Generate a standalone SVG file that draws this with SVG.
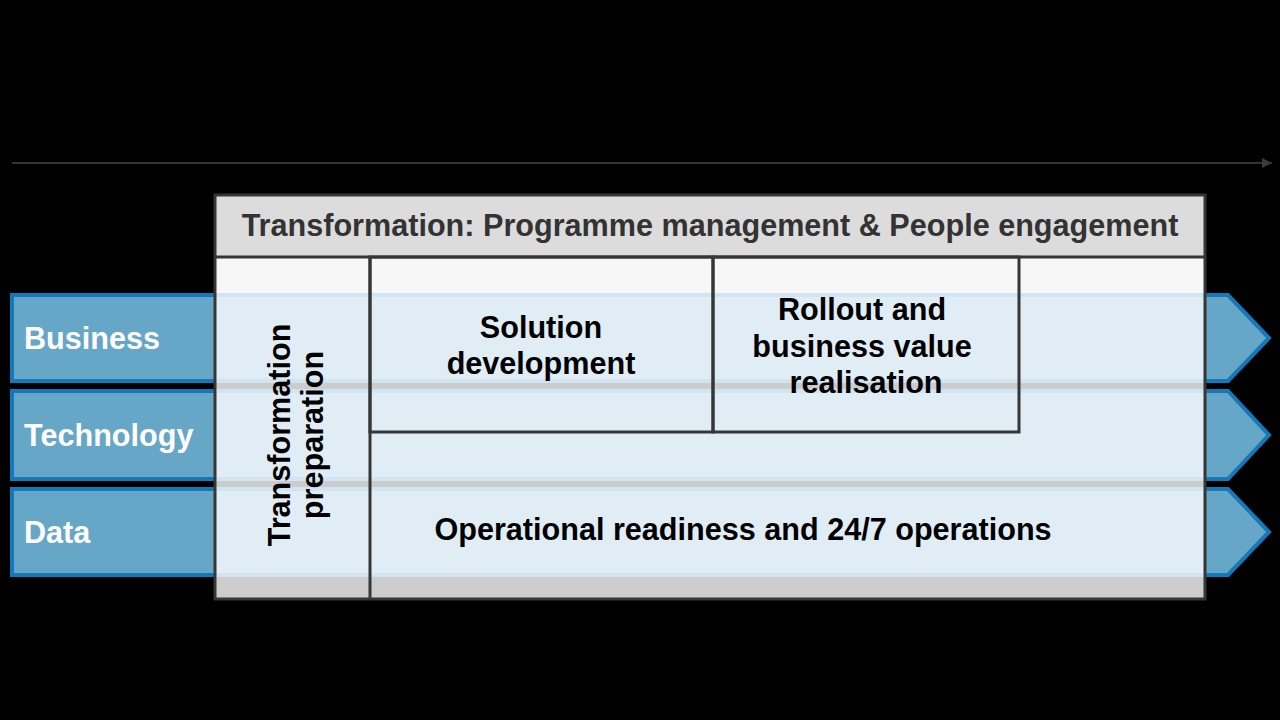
<svg xmlns="http://www.w3.org/2000/svg" width="1280" height="720" viewBox="0 0 1280 720">
  <defs>
    <marker id="arr" viewBox="0 0 10 10" refX="10" refY="5" markerWidth="10" markerHeight="10" markerUnits="userSpaceOnUse" orient="auto">
      <path d="M0,0 L10,5 L0,10 Z" fill="#3c3c3c"/>
    </marker>
    <style>
      .band { fill: #66a6c7; stroke: #1479b8; stroke-width: 4; }
      .lbl { font-family: "Liberation Sans", Arial, sans-serif; font-weight: bold; font-size: 30.6px; }
      .wht { fill: #ffffff; }
      .dk { fill: #000000; }
      .hd { fill: #333333; }
      .ln { stroke: #363636; stroke-width: 3; fill: none; }
    </style>
  </defs>
  <rect x="0" y="0" width="1280" height="720" fill="#000000"/>

  <g id="connectors">
    <line x1="12" y1="163" x2="1272" y2="163" stroke="#333333" stroke-width="2" marker-end="url(#arr)"/>
  </g>

  <g id="band-business">
    <path class="band" d="M12,295 H1228 L1269,338 L1228,381 H12 Z"/>
    <text class="lbl wht" x="24" y="349">Business</text>
  </g>
  <g id="band-technology">
    <path class="band" d="M12,391 H1228 L1269,435 L1228,479 H12 Z"/>
    <text class="lbl wht" x="24" y="446">Technology</text>
  </g>
  <g id="band-data">
    <path class="band" d="M12,489 H1228 L1269,532 L1228,575 H12 Z"/>
    <text class="lbl wht" x="24" y="543">Data</text>
  </g>

  <g id="body">
    <rect x="215" y="257" width="990" height="36" fill="#f7f7f7"/>
    <rect x="215" y="293" width="990" height="306" fill="#ffffff" fill-opacity="0.8"/>
  </g>

  <g id="header">
    <rect x="215" y="195" width="990" height="62" fill="#dcdcdc"/>
    <text class="lbl hd" x="710" y="236" text-anchor="middle">Transformation: Programme management &amp; People engagement</text>
  </g>

  <g id="transformation-preparation">
    <line class="ln" x1="370" y1="257" x2="370" y2="599"/>
    <text class="lbl dk" transform="translate(290,435) rotate(-90)" text-anchor="middle">Transformation</text>
    <text class="lbl dk" transform="translate(323,435) rotate(-90)" text-anchor="middle">preparation</text>
  </g>

  <g id="solution-development">
    <rect class="ln" x="370" y="257" width="343" height="175"/>
    <text class="lbl dk" x="541" y="338" text-anchor="middle">Solution</text>
    <text class="lbl dk" x="541" y="374" text-anchor="middle">development</text>
  </g>

  <g id="rollout">
    <rect class="ln" x="713" y="257" width="306" height="175"/>
    <text class="lbl dk" x="862" y="320" text-anchor="middle">Rollout and</text>
    <text class="lbl dk" x="862" y="357" text-anchor="middle">business value</text>
    <text class="lbl dk" x="866" y="393" text-anchor="middle">realisation</text>
  </g>

  <g id="operations">
    <text class="lbl dk" x="743" y="540" text-anchor="middle">Operational readiness and 24/7 operations</text>
  </g>

  <g id="frame">
    <rect class="ln" x="215" y="195" width="990" height="404"/>
    <line class="ln" x1="215" y1="257" x2="1205" y2="257"/>
  </g>
</svg>
